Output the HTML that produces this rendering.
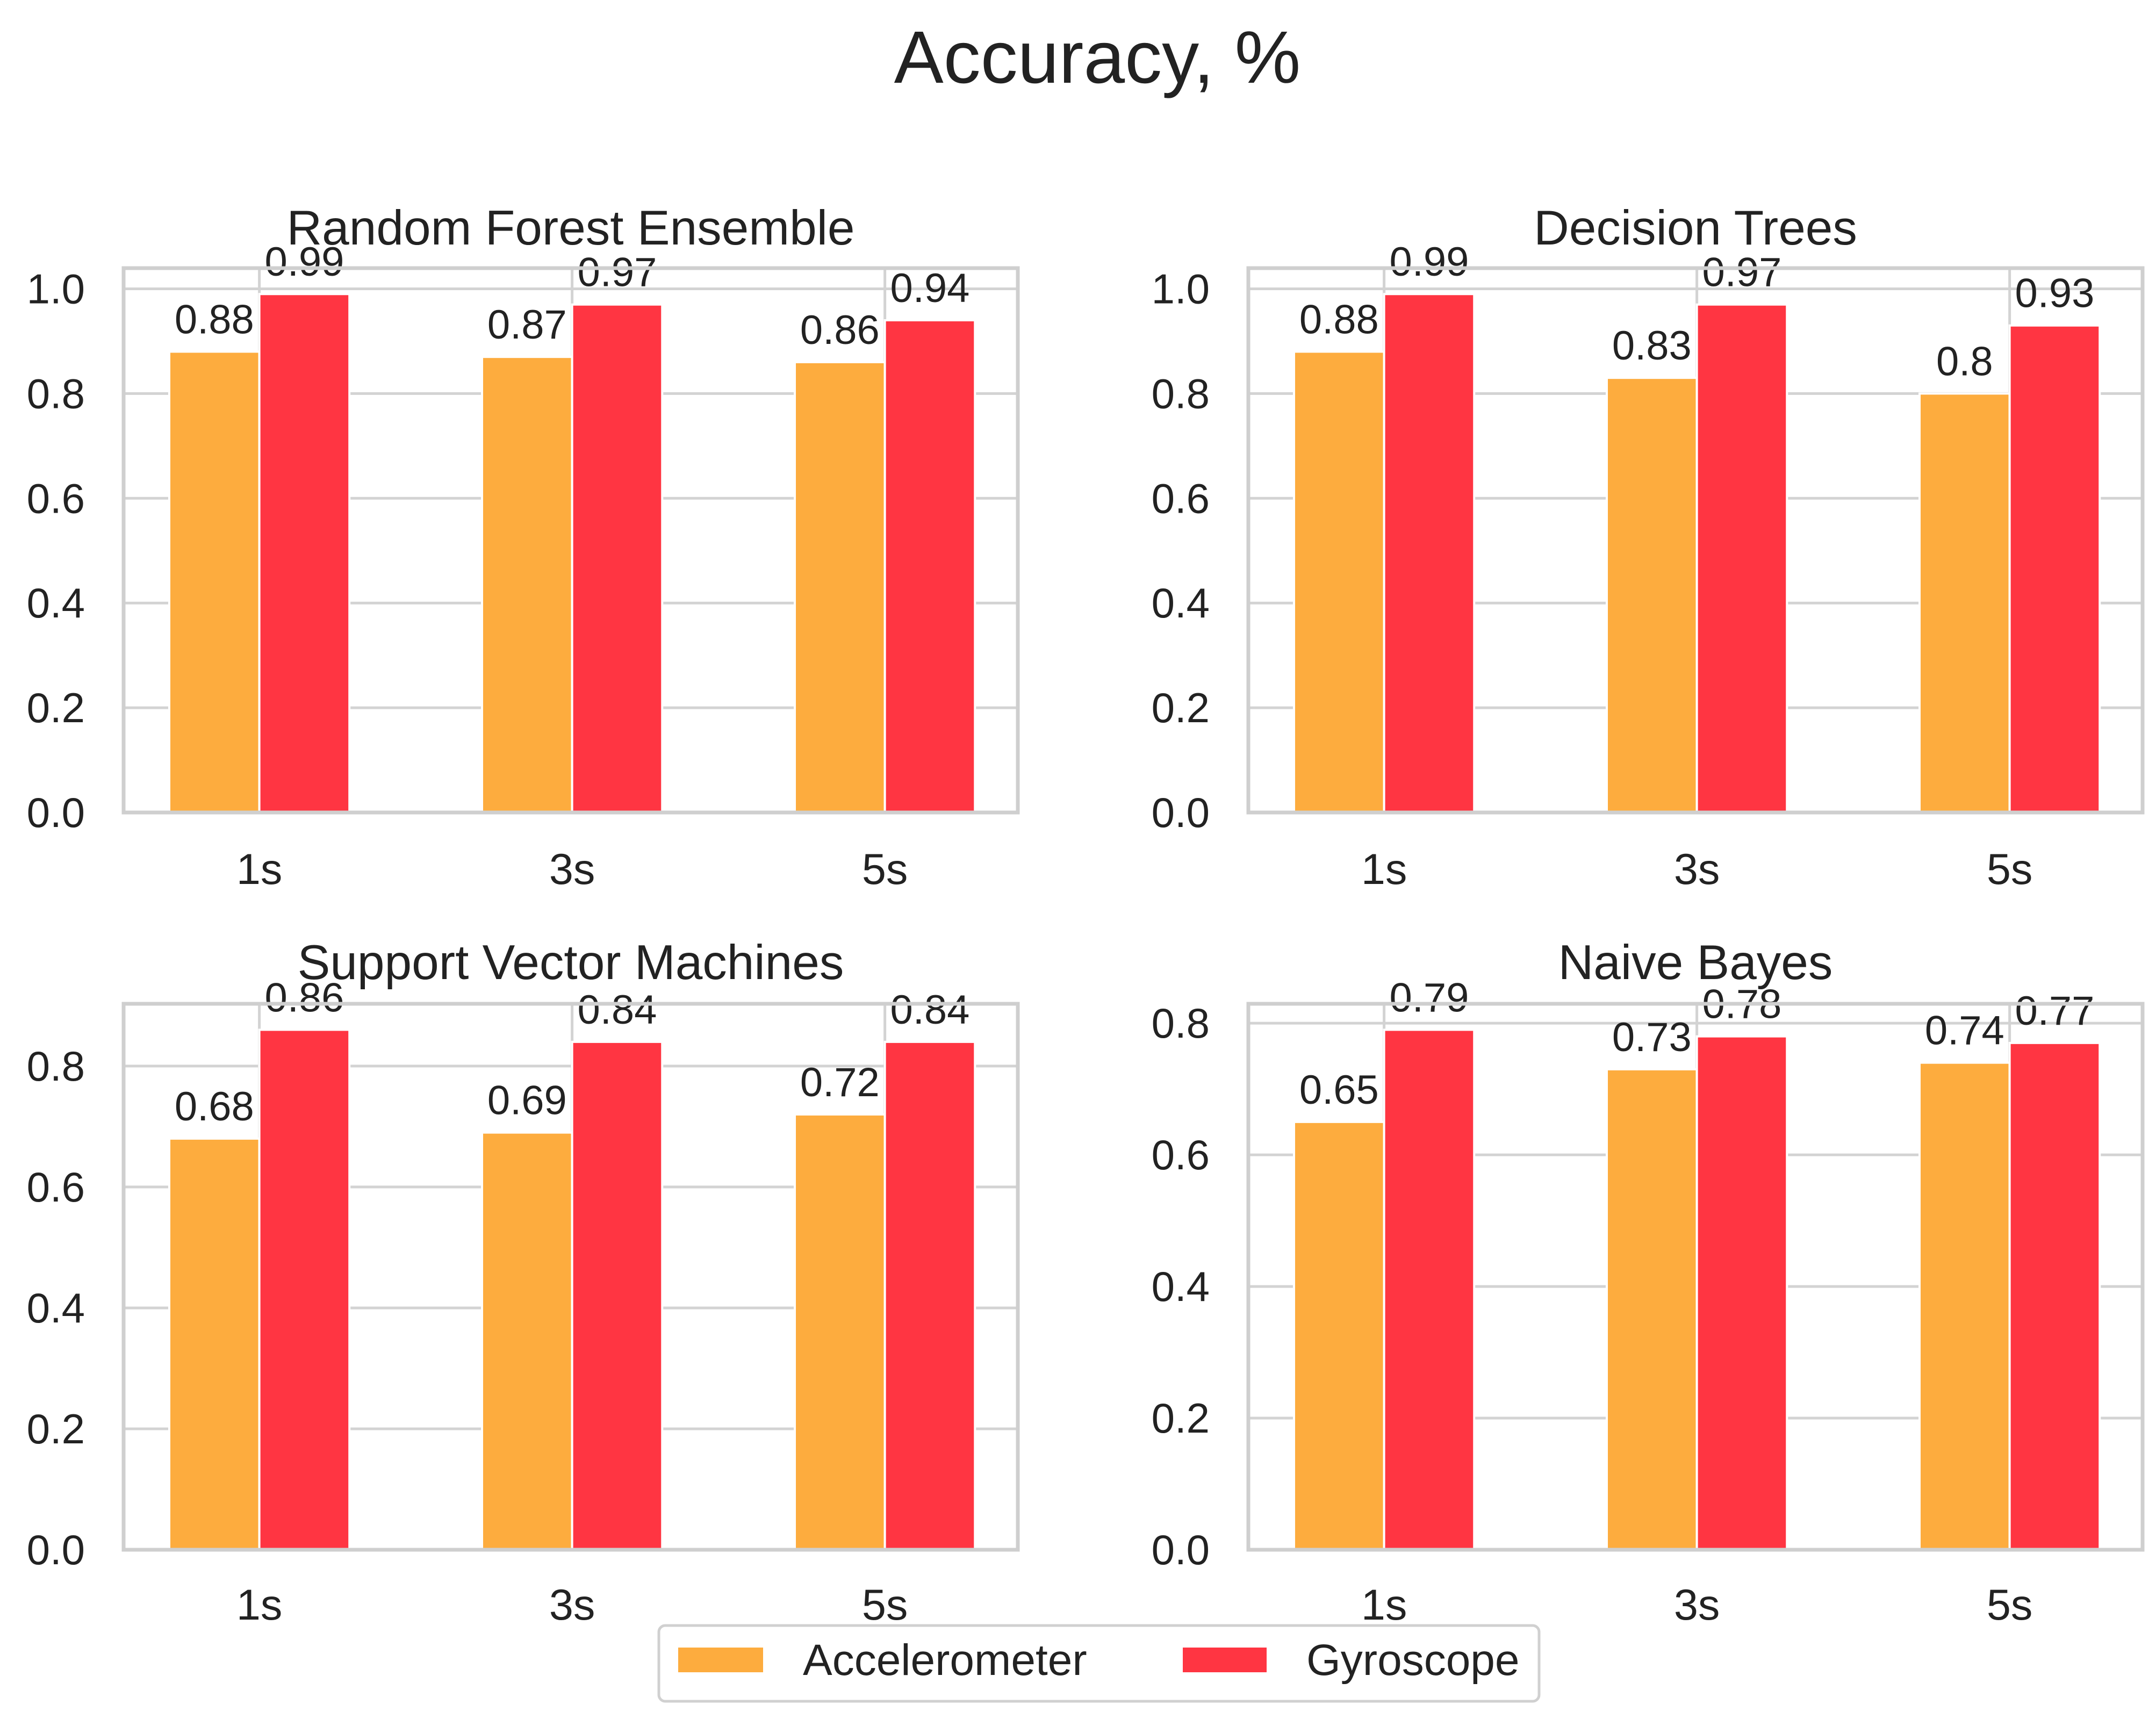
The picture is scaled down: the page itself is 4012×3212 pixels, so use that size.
<!DOCTYPE html>
<html><head><meta charset="utf-8"><style>
html,body{margin:0;padding:0;background:#fff;}
svg{display:block;font-family:"Liberation Sans",Arial,sans-serif;}
</style></head><body>
<svg id="chart" width="4012" height="3212" viewBox="0 0 4012 3212" xmlns="http://www.w3.org/2000/svg">
<rect width="4012" height="3212" fill="#fff"/>
<text x="2042" y="154" font-size="138" text-anchor="middle" fill="#222">Accuracy, %</text>
<g id="panels"></g>
<g>
<rect x="1226" y="3025" width="1638" height="141" rx="12" fill="#fff" stroke="#d0d0d0" stroke-width="5"/>
<rect x="1262" y="3066" width="158" height="46" fill="#FDAC3E"/>
<text x="1494" y="3117" font-size="82" fill="#222">Accelerometer</text>
<rect x="2201" y="3066" width="156" height="46" fill="#FF3542"/>
<text x="2431" y="3117" font-size="82" fill="#222">Gyroscope</text>
</g>
</svg>
<script>
const categories = ["1s","3s","5s"];
const panelTitles = ["Random Forest Ensemble","Decision Trees","Support Vector Machines","Naive Bayes"];
const accelRF = [0.88,0.87,0.86];
const gyroRF = [0.99,0.97,0.94];
const accelDT = [0.88,0.83,0.8];
const gyroDT = [0.99,0.97,0.93];
const accelSVM = [0.68,0.69,0.72];
const gyroSVM = [0.86,0.84,0.84];
const accelNB = [0.65,0.73,0.74];
const gyroNB = [0.79,0.78,0.77];
const ticksTop = ["0.0","0.2","0.4","0.6","0.8","1.0"];
const ticksBottom = ["0.0","0.2","0.4","0.6","0.8"];

const NS = "http://www.w3.org/2000/svg";
const root = document.getElementById("panels");
function mk(tag, attrs, parent){
  const e = document.createElementNS(NS, tag);
  for (const k in attrs) e.setAttribute(k, attrs[k]);
  parent.appendChild(e);
  return e;
}
const layouts = [
  {x:230, y0:1512, top:499, titleY:455, xtY:1645},
  {x:2323, y0:1512, top:499, titleY:455, xtY:1645},
  {x:230, y0:2884, top:1868, titleY:1822, xtY:3014},
  {x:2323, y0:2884, top:1868, titleY:1822, xtY:3014}
];
const series = [[accelRF,gyroRF],[accelDT,gyroDT],[accelSVM,gyroSVM],[accelNB,gyroNB]];
const tickSets = [ticksTop,ticksTop,ticksBottom,ticksBottom];
const W = 1664;
const slug = ["random-forest","decision-trees","svm","naive-bayes"];

series.forEach((s, p) => {
  const L = layouts[p];
  const g = mk("g", {}, root);
  
  
  const maxV = Math.max(...s[0], ...s[1]);
  const ymax = maxV * 1.05;
  const yS = v => L.y0 - v / ymax * (L.y0 - L.top);
  const xmin = -0.434, xmax = 2.425;
  const xS = v => L.x + (v - xmin) / (xmax - xmin) * W;
  tickSets[p].forEach(t => {
    const y = yS(parseFloat(t));
    const gl = mk("line", {x1:L.x, x2:L.x+W, y1:y, y2:y, stroke:"#d3d3d3", "stroke-width":5}, g);
    
    
    const tl = mk("text", {x:L.x-72, y:y+27, "font-size":78, "text-anchor":"end", fill:"#222"}, g);
    tl.textContent = t;
    
    
  });
  categories.forEach((c, i) => {
    const x = xS(i);
    const vl = mk("line", {x1:x, x2:x, y1:L.top, y2:L.y0, stroke:"#d3d3d3", "stroke-width":5}, g);
    
    
    const xl = mk("text", {x:x, y:L.xtY, "font-size":81, "text-anchor":"middle", fill:"#222"}, g);
    xl.textContent = c;
    
    
  });
  const bw = 0.288;
  const colors = ["#FDAC3E","#FF3542"];
  const names = ["accelerometer","gyroscope"];
  s.forEach((vals, k) => {
    vals.forEach((v, i) => {
      const left = xS(i + (k === 0 ? -bw : 0));
      const right = xS(i + (k === 0 ? 0 : bw));
      const yt = yS(v);
      const b = mk("rect", {x:left, y:yt, width:right-left, height:L.y0-yt, fill:colors[k], stroke:"#fff", "stroke-width":4}, g);
      
      
      const lb = mk("text", {x:(left+right)/2, y:yt-34, "font-size":76, "text-anchor":"middle", fill:"#222"}, g);
      lb.textContent = String(v);
      
      
    });
  });
  const fr = mk("rect", {x:L.x, y:L.top, width:W, height:L.y0-L.top, fill:"none", stroke:"#cfcfcf", "stroke-width":7}, g);
  
  
  const tt = mk("text", {x:L.x+W/2, y:L.titleY, "font-size":91, "text-anchor":"middle", fill:"#222"}, g);
  tt.textContent = panelTitles[p];
  
  
});
</script>
</body></html>
